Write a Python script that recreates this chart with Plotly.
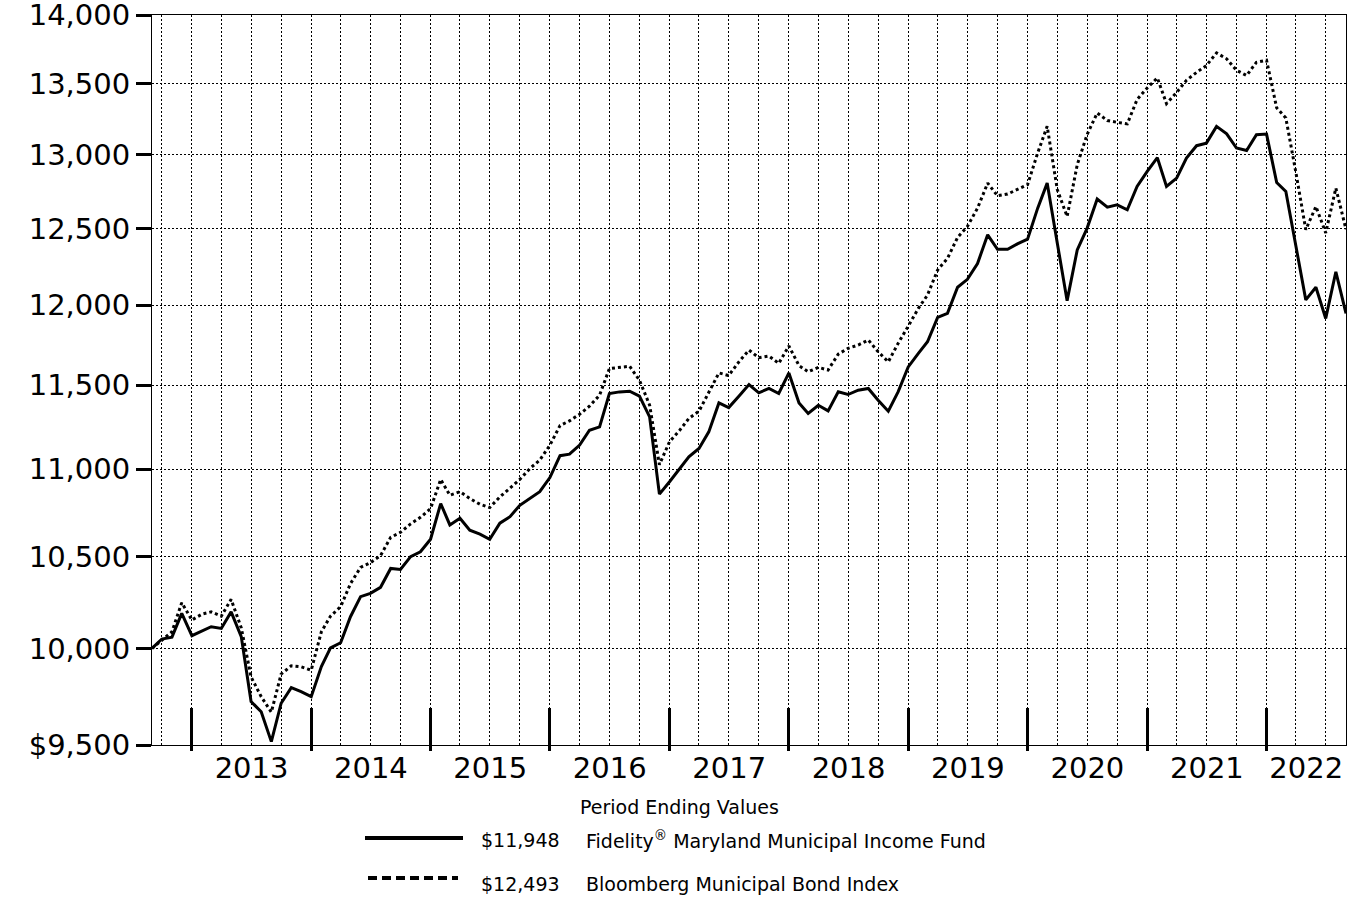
import calendar
import math
import pandas as pd
import plotly.graph_objects as go

# ---------------- data ----------------
start_year, start_month = 2012, 8
n_months = 121

fund_values = [
    10000, 10050, 10060, 10188, 10068, 10093, 10116, 10107, 10196, 10063,
    9722, 9669, 9517, 9713, 9794, 9773, 9747, 9904, 10003, 10030,
    10170, 10279, 10297, 10330, 10434, 10428, 10500, 10527, 10597, 10800,
    10678, 10716, 10648, 10626, 10597, 10688, 10725, 10790, 10829, 10868,
    10950, 11078, 11087, 11141, 11229, 11249, 11450, 11460, 11464, 11434,
    11309, 10854, 10926, 11000, 11071, 11121, 11219, 11393, 11365, 11434,
    11505, 11454, 11481, 11450, 11576, 11393, 11329, 11379, 11345, 11460,
    11444, 11470, 11481, 11409, 11343, 11460, 11613, 11697, 11769, 11922,
    11948, 12115, 12166, 12269, 12457, 12362, 12362, 12397, 12428, 12635,
    12804, 12402, 12029, 12358, 12500, 12696, 12642, 12657, 12624, 12781,
    12884, 12978, 12781, 12838, 12976, 13061, 13079, 13196, 13144, 13045,
    13028, 13138, 13142, 12808, 12747, 12380, 12034, 12115, 11916, 12215,
    11948,
]

index_values = [
    10000, 10045, 10089, 10246, 10152, 10184, 10196, 10173, 10264, 10110,
    9850, 9747, 9667, 9865, 9908, 9903, 9885, 10089, 10173, 10224,
    10350, 10440, 10466, 10505, 10608, 10636, 10684, 10721, 10771, 10939,
    10848, 10868, 10829, 10796, 10777, 10838, 10887, 10939, 11003, 11052,
    11140, 11257, 11285, 11325, 11373, 11440, 11603, 11610, 11617, 11531,
    11380, 11025, 11161, 11229, 11299, 11343, 11460, 11576, 11560, 11644,
    11717, 11670, 11680, 11635, 11743, 11621, 11583, 11610, 11594, 11692,
    11728, 11749, 11780, 11707, 11644, 11759, 11867, 11980, 12065, 12227,
    12302, 12440, 12513, 12635, 12804, 12718, 12730, 12759, 12793, 13011,
    13196, 12759, 12579, 12930, 13138, 13290, 13237, 13224, 13213, 13385,
    13468, 13540, 13356, 13436, 13523, 13580, 13629, 13721, 13678, 13595,
    13557, 13653, 13668, 13326, 13255, 12873, 12491, 12646, 12470, 12770,
    12493,
]

y_tick_values = [9500, 10000, 10500, 11000, 11500, 12000, 12500, 13000, 13500, 14000]
y_tick_labels = ["$9,500", "10,000", "10,500", "11,000", "11,500",
                 "12,000", "12,500", "13,000", "13,500", "14,000"]
year_labels = ["2013", "2014", "2015", "2016", "2017",
               "2018", "2019", "2020", "2021", "2022"]

fund_name = "Fidelity<sup>®</sup> Maryland Municipal Income Fund"
index_name = "Bloomberg Municipal Bond Index"
legend_title = "Period Ending Values"

# ---------------- dates ----------------
def month_end(y, m):
    return pd.Timestamp(y, m, calendar.monthrange(y, m)[1])

dates = []
for i in range(n_months):
    m0 = start_month - 1 + i
    dates.append(month_end(start_year + m0 // 12, m0 % 12 + 1))

x_start, x_end = dates[0], dates[-1]
year_ticks = [pd.Timestamp(int(y) - 1, 12, 31) for y in year_labels]
quarter_grid = [d for d in dates if d.month in (3, 6, 9, 12)]
bounds = year_ticks + [x_end]
year_label_pos = [bounds[k] + (bounds[k + 1] - bounds[k]) / 2 for k in range(len(year_labels))]

# ---------------- figure geometry ----------------
W, H = 1363, 921
L, R, T, B = 152, 17, 15, 176
pw, ph = W - L - R, H - T - B

def px_x(px):
    return (px - L) / pw

def px_y(py):
    return (T + ph - py) / ph

FONT = "DejaVu Sans"
GRID_DASH = "2px,2px"
TICK_FONT = 29
LEG_FONT = 19

fig = go.Figure()
fig.add_trace(go.Scatter(
    x=dates, y=fund_values, mode="lines", xaxis="x", yaxis="y",
    line=dict(color="black", width=3), showlegend=False, hoverinfo="skip",
))
fig.add_trace(go.Scatter(
    x=dates, y=index_values, mode="lines", xaxis="x2", yaxis="y",
    line=dict(color="black", width=3, dash="3px,3px"), showlegend=False, hoverinfo="skip",
))

fig.update_layout(
    width=W, height=H, autosize=False,
    margin=dict(l=L, r=R, t=T, b=B, pad=0, autoexpand=False),
    paper_bgcolor="white", plot_bgcolor="white",
    font=dict(family=FONT, color="black", size=LEG_FONT),
    xaxis=dict(
        type="date", range=[x_start, x_end], fixedrange=True, automargin=False,
        tickmode="array", tickvals=year_ticks, showticklabels=False,
        ticks="inside", ticklen=37, tickwidth=3, tickcolor="black",
        showgrid=True, gridcolor="black", gridwidth=1, griddash=GRID_DASH,
        minor=dict(tickmode="array", tickvals=quarter_grid, ticks="",
                   showgrid=True, gridcolor="black", gridwidth=1, griddash=GRID_DASH),
        showline=True, linecolor="black", linewidth=1, mirror=True,
        zeroline=False,
    ),
    xaxis2=dict(
        type="date", range=[x_start, x_end], overlaying="x", anchor="y", side="bottom",
        fixedrange=True, automargin=False,
        tickmode="array", tickvals=year_label_pos, ticktext=year_labels,
        ticks="", ticklabelstandoff=3, ticklabeloverflow="allow",
        tickfont=dict(family=FONT, size=TICK_FONT, color="black"),
        minor=dict(tickmode="array", tickvals=year_ticks, ticks="outside", ticklen=5,
                   tickwidth=3, tickcolor="black", showgrid=False),
        showgrid=False, showline=False, zeroline=False,
    ),
    yaxis=dict(
        type="log", range=[math.log10(9500) - 1e-6, math.log10(14000) + 1e-6],
        fixedrange=True, automargin=False,
        tickmode="array", tickvals=y_tick_values, ticktext=y_tick_labels,
        ticks="outside", ticklen=15, tickwidth=3, tickcolor="black",
        ticklabeloverflow="allow",
        tickfont=dict(family=FONT, size=TICK_FONT, color="black"),
        showgrid=True, gridcolor="black", gridwidth=1, griddash=GRID_DASH,
        showline=True, linecolor="black", linewidth=1, mirror=True,
        zeroline=False,
    ),
)

# ---------------- custom legend ----------------
fig.add_annotation(text=legend_title, xref="paper", yref="paper",
                   x=px_x(679), y=px_y(807), xanchor="center", yanchor="middle",
                   showarrow=False, font=dict(family=FONT, size=LEG_FONT))
rows = [
    (f"${fund_values[-1]:,}", fund_name, 840, 838, "solid", 365, 463),
    (f"${index_values[-1]:,}", index_name, 884, 878, "9px,5px", 368, 458),
]
for value_txt, name_txt, ty, ly, dash, lx0, lx1 in rows:
    fig.add_shape(type="line", xref="paper", yref="paper",
                  x0=px_x(lx0), x1=px_x(lx1), y0=px_y(ly), y1=px_y(ly),
                  line=dict(color="black", width=4, dash=dash))
    fig.add_annotation(text=value_txt, xref="paper", yref="paper",
                       x=px_x(479), y=px_y(ty), xanchor="left", yanchor="middle",
                       showarrow=False, font=dict(family=FONT, size=LEG_FONT))
    fig.add_annotation(text=name_txt, xref="paper", yref="paper",
                       x=px_x(584), y=px_y(ty), xanchor="left", yanchor="middle",
                       showarrow=False, font=dict(family=FONT, size=LEG_FONT))

fig.write_html(
    "out.html",
    config={"displayModeBar": False},
    post_script="document.body.style.margin='0px';document.body.style.padding='0px';",
)
